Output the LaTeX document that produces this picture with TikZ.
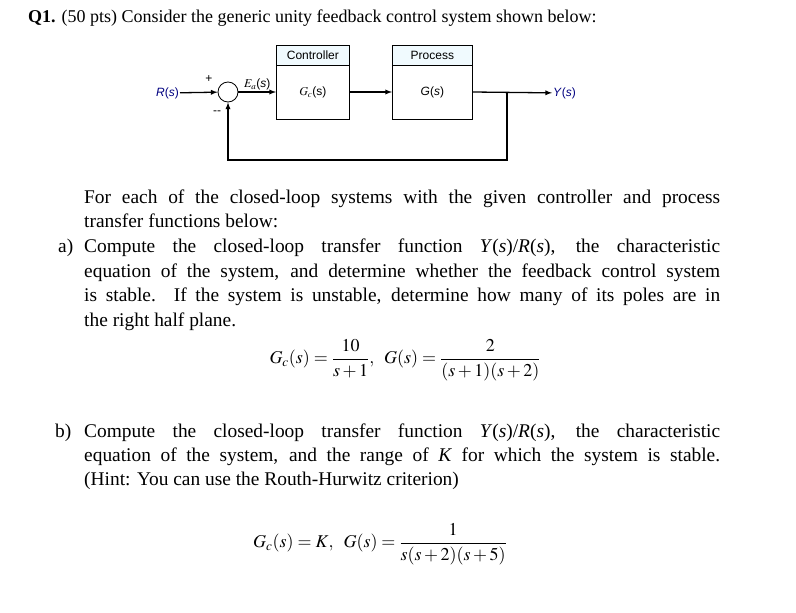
\documentclass[tikz,border=0pt]{standalone}
\usepackage{amsmath}
\usepackage{mathptmx}
\usepackage{fontspec}
\setmainfont{Liberation Serif}
\newfontfamily\diag{Liberation Sans}
\begin{document}
\begin{tikzpicture}[x=1pt,y=-1pt,
  txt/.style={anchor=base west,inner sep=0pt,font=\fontsize{19.4}{21}\selectfont},
  blk/.style={draw,line width=0.8pt},
  lab/.style={font=\diag\fontsize{12}{14}\selectfont,inner sep=1pt},
  sig/.style={line width=1.3pt,-latex}]
\useasboundingbox (0,0) rectangle (796,613);
% header
\node[txt,font=\fontsize{18}{20}\selectfont] (hd) at (28,22) {\textbf{Q1.} (50 pts) Consider the generic unity feedback control system shown below:};
% diagram
\node[draw,circle,minimum size=20pt,inner sep=0pt,line width=0.8pt] (sum) at (228,92) {};
\node[blk,minimum width=73pt,minimum height=20pt,anchor=north west,fill=cyan!6] (ch) at (276,45) {};
\node[lab] at (ch) {Controller};
\node[blk,minimum width=73pt,minimum height=54pt,anchor=north west] (cb) at (276,65) {};
\node[lab] at (cb) {$G_c$(s)};
\node[blk,minimum width=80pt,minimum height=20pt,anchor=north west,fill=cyan!6] (ph) at (392,45) {};
\node[lab] at (ph) {Process};
\node[blk,minimum width=80pt,minimum height=54pt,anchor=north west] (pb) at (392,65) {};
\node[lab] at (pb) {\textit{G}(\textit{s})};
\node[lab,anchor=east,text=blue!50!black] (R) at (180,93) {\textit{R}(\textit{s})};
\node[lab,anchor=west,text=blue!50!black] (Y) at (552,93) {\textit{Y}(\textit{s})};
\coordinate (br) at (507,92);
\coordinate (bot) at (507,160);
\coordinate (botl) at (228,160);
\draw[sig] (R) -- (sum);
\draw[sig] (sum) -- (cb.west|-sum) node[midway,above,lab] {$E_a$(\textit{s})};
\draw[sig] (cb.east|-sum) -- (pb.west|-sum);
\draw[sig] (pb.east|-sum) -- (Y);
\draw[line width=1.3pt,-latex] (br) -- (bot) -- (botl) -- (sum);
\node[lab] at (209,79) {+};
\node[lab] at (217,113) {--};
% text
\node[txt] (l1) at (84,203) {\hbox to 636pt{For each of the closed-loop systems with the given controller and process}};
\node[txt] (l2) at (84,227) {transfer functions below:};
\node[txt] (a0) at (58,252) {a)};
\node[txt] (l3) at (84,252) {\hbox to 636pt{Compute the closed-loop transfer function \textit{Y}(\textit{s})/\textit{R}(\textit{s}), the characteristic}};
\node[txt] (l4) at (84,277) {\hbox to 636pt{equation of the system, and determine whether the feedback control system}};
\node[txt] (l5) at (84,301) {\hbox to 636pt{is stable. If the system is unstable, determine how many of its poles are in}};
\node[txt] (l6) at (84,326) {the right half plane.};
\node[font=\fontsize{18}{20}\selectfont,inner sep=0pt] (ea) at (405,360) {$G_c(s)=\dfrac{10}{s+1},\;\; G(s)=\dfrac{2}{(s+1)(s+2)}$};
\node[txt] (b0) at (55,437) {b)};
\node[txt] (l7) at (84,437) {\hbox to 636pt{Compute the closed-loop transfer function \textit{Y}(\textit{s})/\textit{R}(\textit{s}), the characteristic}};
\node[txt] (l8) at (84,461) {\hbox to 636pt{equation of the system, and the range of \textit{K} for which the system is stable.}};
\node[txt] (l9) at (84,485) {(Hint: You can use the Routh-Hurwitz criterion)};
\node[font=\fontsize{18}{20}\selectfont,inner sep=0pt] (eb) at (380,544) {$G_c(s)=K,\;\; G(s)=\dfrac{1}{s(s+2)(s+5)}$};
\end{tikzpicture}
\end{document}
